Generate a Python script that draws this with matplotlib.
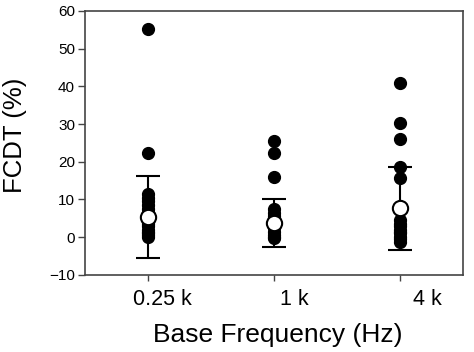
import matplotlib
matplotlib.use("Agg")
import matplotlib.pyplot as plt
from matplotlib.transforms import ScaledTranslation

plt.rcParams["font.family"] = ["Liberation Sans", "DejaVu Sans"]

categories = ["0.25 k", "1 k", "4 k"]
points_025k = [55.2, 22.3, 11.5, 10.5, 9.5, 8.5, 7.5, 6.5, 6, 5, 4, 3.5, 3, 2, 1.5, 1, 0.5, 0]
points_1k = [25.5, 22.4, 15.9, 7.5, 6.5, 5.5, 5, 4, 3, 2.5, 1.5, 0.5, 0, -0.3]
points_4k = [40.8, 30.2, 26.0, 18.6, 15.6, 4.5, 3.5, 3, 2, 1.5, 1, 0, -0.5, -1.2]
means = [5.3, 3.8, 7.7]
sds = [10.9, 6.4, 11.0]

fig = plt.figure(figsize=(4.74, 3.52), dpi=100)
ax = fig.add_axes([0.179, 0.219, 0.798, 0.750])

for i, pts in enumerate([points_025k, points_1k, points_4k]):
    x = [i + 1] * len(pts)
    ax.plot(x, pts, "o", color="black", markersize=8.5, zorder=2)

ax.errorbar([1, 2, 3], means, yerr=sds, fmt="none", ecolor="black",
            elinewidth=1.5, capsize=8.3, capthick=1.5, zorder=3)
ax.plot([1, 2, 3], means, "o", markerfacecolor="white", markeredgecolor="black",
        markeredgewidth=1.5, markersize=11, zorder=4)

ax.set_xlim(0.5, 3.5)
ax.set_ylim(-10, 60)
ax.set_yticks(range(-10, 61, 10))
ax.set_xticks([1, 2, 3])
ax.set_xticklabels(categories)
ax.tick_params(axis="y", labelsize=11, length=5, width=1, color="#444444", pad=2)
ax.tick_params(axis="x", labelsize=15.5, length=4, width=1, color="#444444", pad=6.5)

offsets = [14, 20, 27]
for lab, dx in zip(ax.get_xticklabels(), offsets):
    lab.set_transform(lab.get_transform() + ScaledTranslation(dx / 100, 0, fig.dpi_scale_trans))

for sp in ax.spines.values():
    sp.set_color("#444444")
    sp.set_linewidth(1.2)

ax.set_xlabel("Base Frequency (Hz)", fontsize=19)
ax.set_ylabel("FCDT (%)", fontsize=18.5)
ax.xaxis.set_label_coords(0.51, -0.184)
ax.yaxis.set_label_coords(-0.152, 0.53)

fig.savefig("out.png", dpi=100)
